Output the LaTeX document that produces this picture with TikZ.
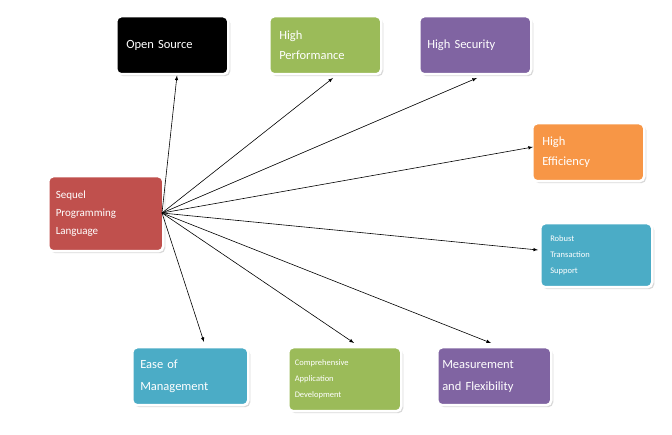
\documentclass[tikz,border=0pt]{standalone}
\usepackage{fontspec}
\setmainfont{Carlito}
\usetikzlibrary{shadows}
\definecolor{cred}{HTML}{C0504D}
\definecolor{cgreen}{HTML}{9BBB59}
\definecolor{cpurple}{HTML}{8064A2}
\definecolor{corange}{HTML}{F79646}
\definecolor{cteal}{HTML}{4BACC6}
\begin{document}
\begin{tikzpicture}[x=1pt,y=-1pt,
  box/.style={draw=white,line width=2.5pt,rounded corners=5pt,text=white,
    minimum width=#1,align=left,anchor=north west,inner sep=0pt,
    drop shadow={shadow xshift=2pt,shadow yshift=-2pt,opacity=0.3}},
  arr/.style={-latex,line width=0.6pt}]
\useasboundingbox (0,0) rectangle (672,435);
\newcommand{\mybox}[7]{% name, x, y, w, h, color, text
  \node[box=#4, minimum height=#5, fill=#6, text width=#4-14pt] (#1) at (#2,#3)
    {\hspace*{0pt}#7};}
\node[box=0, fill=cred, minimum width=115pt, minimum height=75pt, text width=100pt, font=\fontsize{11}{18}\selectfont] (sq) at (47,175) {Sequel\\Programming\\Language};
\node[box=0, fill=black, minimum width=112pt, minimum height=58pt, text width=92pt, font=\fontsize{12.5}{15}\selectfont] (os) at (115,15) {Open Source\\[12pt]};
\node[box=0, fill=cgreen, minimum width=112pt, minimum height=58pt, text width=92pt, font=\fontsize{12.5}{20}\selectfont] (hp) at (268,15) {High\\Performance};
\node[box=0, fill=cpurple, minimum width=112pt, minimum height=58pt, text width=96pt, font=\fontsize{12.5}{15}\selectfont] (hs) at (418,15) {High Security\\[12pt]};
\node[box=0, fill=corange, minimum width=112pt, minimum height=58pt, text width=92pt, font=\fontsize{12.5}{20}\selectfont] (he) at (531,122) {High\\Efficiency};
\node[box=0, fill=cteal, minimum width=112pt, minimum height=64pt, text width=92pt, font=\fontsize{8.5}{16}\selectfont] (rt) at (539,222) {Robust\\Transaction\\Support};
\node[box=0, fill=cteal, minimum width=116pt, minimum height=58pt, text width=100pt, font=\fontsize{12.5}{22}\selectfont] (em) at (131,346) {Ease of\\Management};
\node[box=0, fill=cgreen, minimum width=113pt, minimum height=64pt, text width=100pt, font=\fontsize{8.5}{16}\selectfont] (ca) at (287,346) {Comprehensive\\Application\\Development};
\node[box=0, fill=cpurple, minimum width=114pt, minimum height=58pt, text width=104pt, font=\fontsize{12.5}{22}\selectfont] (mf) at (436,346) {Measurement\\and Flexibility};
\coordinate (s) at (162,213);
\draw[arr] (s) -- (os.south west -| 177,0);
\draw[arr] (s) -- (333,78);
\draw[arr] (s) -- (477,78);
\draw[arr] (s) -- (533,147);
\draw[arr] (s) -- (538,250);
\draw[arr] (s) -- (204,342);
\draw[arr] (s) -- (354,343);
\draw[arr] (s) -- (491,343);
\end{tikzpicture}
\end{document}
